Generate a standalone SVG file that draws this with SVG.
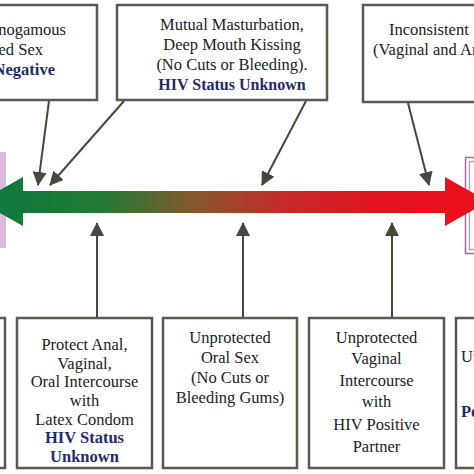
<svg xmlns="http://www.w3.org/2000/svg" width="474" height="474" viewBox="0 0 474 474">
<defs>
<linearGradient id="g" x1="0" y1="0" x2="474" y2="0" gradientUnits="userSpaceOnUse">
<stop offset="0" stop-color="#0e7a3d"/>
<stop offset="0.22" stop-color="#237a36"/>
<stop offset="0.42" stop-color="#8a552c"/>
<stop offset="0.6" stop-color="#c42b28"/>
<stop offset="0.8" stop-color="#e3141f"/>
<stop offset="1" stop-color="#ea101c"/>
</linearGradient>
<marker id="ah" markerUnits="userSpaceOnUse" markerWidth="14" markerHeight="14" viewBox="0 0 14 14" refX="13" refY="7" orient="auto">
<path d="M0,0 L14,7 L0,14 Z" fill="#47473f"/>
</marker>
<style>
.box{fill:#fff;stroke:#5a5a55;stroke-width:2.5}
.t{font-family:"Liberation Serif","Times New Roman",serif;font-size:16.5px;fill:#222;text-anchor:middle}
.b{font-weight:bold;fill:#1f2a6e}
.c{stroke:#47473f;stroke-width:2;fill:none}
</style>
</defs>
<rect width="474" height="474" fill="#fff"/>
<g id="edge-marks">
<rect x="-10" y="152" width="16" height="96" fill="#dcbadc"/>
<rect x="465.5" y="157.5" width="30" height="96" fill="none" stroke="#b0639a" stroke-width="1.5"/>
<rect x="469.5" y="161.5" width="30" height="88" fill="none" stroke="#a9a3d2" stroke-width="1.5"/>
</g>
<g id="scale-arrow">
<polygon points="-20,201.5 23,177 23,191 445,191 445,177 488,201.5 445,226 445,213 23,213 23,226" fill="url(#g)"/>
</g>
<g id="box-top-1">
<rect class="box" x="-20" y="5" width="117" height="95"/>
<text class="t" x="66" y="35" style="text-anchor:end">Monogamous</text>
<text class="t" x="43" y="55" style="text-anchor:end">Protected Sex</text>
<text class="t b" x="55" y="75" style="text-anchor:end">HIV Negative</text>
</g>
<g id="box-top-2">
<rect class="box" x="117" y="5" width="210" height="95"/>
<text class="t" x="232" y="30">Mutual Masturbation,</text>
<text class="t" x="232" y="50">Deep Mouth Kissing</text>
<text class="t" x="232" y="70">(No Cuts or Bleeding).</text>
<text class="t b" x="232" y="90" style="font-size:16px">HIV Status Unknown</text>
</g>
<g id="box-top-3">
<rect class="box" x="363" y="5" width="140" height="97"/>
<text class="t" x="389" y="35" style="text-anchor:start">Inconsistent</text>
<text class="t" x="373" y="55" style="text-anchor:start">(Vaginal and Anal</text>
</g>
<g id="box-bottom-1">
<rect class="box" x="-30" y="318" width="35" height="150"/>
</g>
<g id="box-bottom-2">
<rect class="box" x="17" y="318" width="135" height="150"/>
<text class="t" x="84.5" y="350">Protect Anal,</text>
<text class="t" x="84.5" y="368.7">Vaginal,</text>
<text class="t" x="84.5" y="387.4">Oral Intercourse</text>
<text class="t" x="84.5" y="406">with</text>
<text class="t" x="84.5" y="424.7">Latex Condom</text>
<text class="t b" x="84.5" y="443.4">HIV Status</text>
<text class="t b" x="84.5" y="462">Unknown</text>
</g>
<g id="box-bottom-3">
<rect class="box" x="163" y="318" width="134" height="150"/>
<text class="t" x="230" y="343">Unprotected</text>
<text class="t" x="230" y="363">Oral Sex</text>
<text class="t" x="230" y="383">(No Cuts or</text>
<text class="t" x="230" y="403">Bleeding Gums)</text>
</g>
<g id="box-bottom-4">
<rect class="box" x="309" y="318" width="135" height="150"/>
<text class="t" x="376.5" y="343">Unprotected</text>
<text class="t" x="376.5" y="364">Vaginal</text>
<text class="t" x="376.5" y="386">Intercourse</text>
<text class="t" x="376.5" y="407">with</text>
<text class="t" x="376.5" y="430">HIV Positive</text>
<text class="t" x="376.5" y="452">Partner</text>
</g>
<g id="box-bottom-5">
<rect class="box" x="456" y="318" width="60" height="150"/>
<text class="t" x="461" y="362" style="text-anchor:start">Unprotected</text>
<text class="t b" x="461" y="417" style="text-anchor:start">Pe</text>
</g>
<g id="connectors">
<line class="c" x1="49" y1="101" x2="38" y2="185" marker-end="url(#ah)"/>
<line class="c" x1="124" y1="101" x2="50" y2="185" marker-end="url(#ah)"/>
<line class="c" x1="306" y1="101" x2="262" y2="185" marker-end="url(#ah)"/>
<line class="c" x1="408" y1="103" x2="429" y2="185" marker-end="url(#ah)"/>
<line class="c" x1="97" y1="317" x2="97" y2="223" marker-end="url(#ah)"/>
<line class="c" x1="243" y1="317" x2="243" y2="223" marker-end="url(#ah)"/>
<line class="c" x1="392" y1="317" x2="392" y2="223" marker-end="url(#ah)"/>
</g>
</svg>
